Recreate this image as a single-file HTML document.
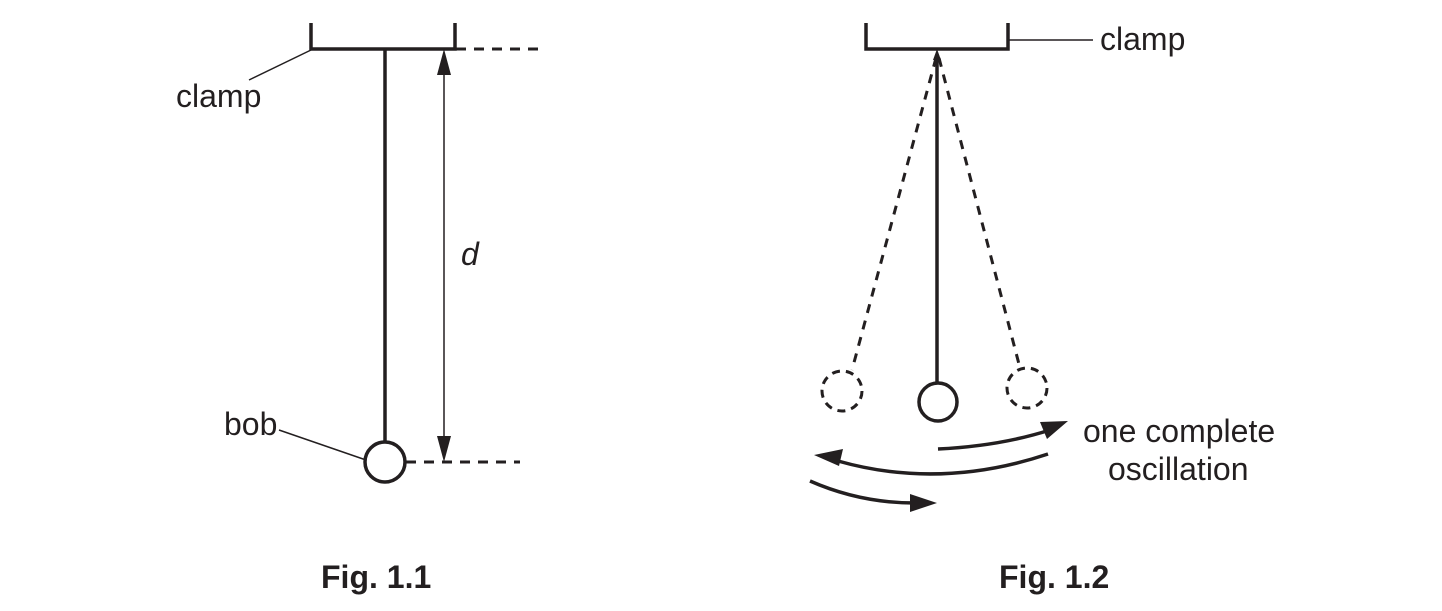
<!DOCTYPE html>
<html><head><style>
html,body{margin:0;padding:0;background:#fff;}
svg{display:block;}
text{font-family:"Liberation Sans",Arial,sans-serif;fill:#231f20;}
</style></head><body>
<svg width="1442" height="611" viewBox="0 0 1442 611" xmlns="http://www.w3.org/2000/svg">
<g stroke="#231f20" fill="none">
<path d="M311 23 V49 H455 V23" stroke-width="3.5"/>
<line x1="456" y1="49" x2="540" y2="49" stroke-width="3" stroke-dasharray="10,8"/>
<line x1="385" y1="49" x2="385" y2="442" stroke-width="3.5"/>
<circle cx="385" cy="462" r="20" stroke-width="3.5"/>
<line x1="406" y1="462" x2="520" y2="462" stroke-width="3" stroke-dasharray="10,8"/>
<line x1="444" y1="72" x2="444" y2="440" stroke-width="1.5"/>
<line x1="311" y1="50" x2="249" y2="80" stroke-width="1.5"/>
<line x1="279" y1="430" x2="366" y2="460" stroke-width="1.5"/>
<path d="M866 23 V49 H1008 V23" stroke-width="3.5"/>
<line x1="1009" y1="40" x2="1093" y2="40" stroke-width="1.5"/>
<line x1="937" y1="55" x2="937" y2="383" stroke-width="3.5"/>
<circle cx="938" cy="402" r="19" stroke-width="3.5"/>
<line x1="936" y1="58" x2="852" y2="370" stroke-width="3" stroke-dasharray="9,8"/>
<line x1="939" y1="58" x2="1020" y2="368" stroke-width="3" stroke-dasharray="9,8"/>
<circle cx="842" cy="391" r="20" stroke-width="3" stroke-dasharray="8,6"/>
<circle cx="1027" cy="388" r="20" stroke-width="3" stroke-dasharray="8,6"/>
<path d="M938 449 Q1000 446 1050 430" stroke-width="3.5"/>
<path d="M1048 454 Q940 490 838 461" stroke-width="3.5"/>
<path d="M810 481 Q860 503 915 503" stroke-width="3.5"/>
</g>
<g fill="#231f20">
<polygon points="444,49 437,75 451,75"/>
<polygon points="444,462 437,436 451,436"/>
<polygon points="937,49 933,60 941,60"/>
<polygon points="1068,421 1040,422 1047,439"/>
<polygon points="814,455 843,449 839,466"/>
<polygon points="937,503 910,494 910,512"/>
</g>
<text x="176" y="107" font-size="32">clamp</text>
<text x="224" y="435" font-size="32">bob</text>
<text x="461" y="265" font-size="32" font-style="italic">d</text>
<text x="1100" y="50" font-size="32">clamp</text>
<text x="1083" y="442" font-size="32">one complete</text>
<text x="1108" y="480" font-size="32">oscillation</text>
<text x="321" y="588" font-size="32" font-weight="bold">Fig. 1.1</text>
<text x="999" y="588" font-size="32" font-weight="bold">Fig. 1.2</text>
</svg>
</body></html>
